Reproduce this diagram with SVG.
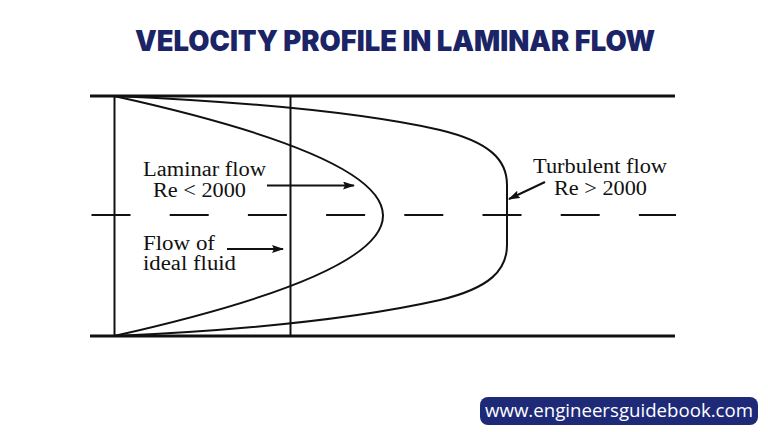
<svg xmlns="http://www.w3.org/2000/svg" width="768" height="432" viewBox="0 0 768 432">
<style>
.t{font-family:"Liberation Serif","Times New Roman",serif;font-size:20px;fill:#111}
.wall{stroke:#111;stroke-width:3;fill:none}
.ln{stroke:#111;stroke-width:2;fill:none}
.arr{stroke:#111;stroke-width:2;fill:none;marker-end:url(#ah)}
</style>
<defs>
<marker id="ah" viewBox="0 0 12 8" refX="11" refY="4" markerWidth="12" markerHeight="8" markerUnits="userSpaceOnUse" orient="auto">
<path d="M0,0 L12,4 L0,8 L2,4 Z" fill="#111"/>
</marker>
</defs>
<rect width="768" height="432" fill="#fff"/>
<text id="title" x="395" y="51" text-anchor="middle" textLength="520" lengthAdjust="spacingAndGlyphs" style="font-family:Inter,'Open Sans',sans-serif;font-weight:900;font-size:28px;fill:#1b2466">VELOCITY PROFILE IN LAMINAR FLOW</text>
<g id="pipe">
<line class="wall" x1="90" y1="96" x2="675" y2="96"/>
<line class="wall" x1="90" y1="336" x2="675" y2="336"/>
<line x1="91.5" y1="215" x2="676" y2="215" stroke="#111" stroke-width="2" stroke-dasharray="39 39.2"/>
<line class="ln" x1="114.5" y1="96" x2="114.5" y2="336"/>
</g>
<g id="ideal"><line class="ln" x1="290.5" y1="96" x2="290.5" y2="336"/></g>
<g id="laminar"><path class="ln" d="M114,96 Q652,215 114,336"/></g>
<g id="turbulent"><path class="ln" d="M114,96 C250,102 360,112 440,130 C490,142 507,160 507,185 L507,245 C507,270 490,288 440,300 C360,318 250,330 114,336"/></g>
<g id="connectors">
<line class="arr" x1="267" y1="185.5" x2="354" y2="185.5"/>
<line class="arr" x1="227" y1="249" x2="283" y2="249"/>
<line class="arr" x1="545" y1="182" x2="509" y2="199"/>
</g>
<g id="label-laminar">
<text class="t" x="143" y="176" textLength="123" lengthAdjust="spacingAndGlyphs">Laminar flow</text>
<text class="t" x="153" y="197" textLength="93" lengthAdjust="spacingAndGlyphs">Re &lt; 2000</text>
</g>
<g id="label-ideal">
<text class="t" x="143" y="249.5" textLength="72" lengthAdjust="spacingAndGlyphs">Flow of</text>
<text class="t" x="143" y="270" textLength="93" lengthAdjust="spacingAndGlyphs">ideal fluid</text>
</g>
<g id="label-turbulent">
<text class="t" x="533" y="172.5" textLength="134" lengthAdjust="spacingAndGlyphs">Turbulent flow</text>
<text class="t" x="554" y="194.5" textLength="93" lengthAdjust="spacingAndGlyphs">Re &gt; 2000</text>
</g>
<g id="website">
<rect x="480" y="397" width="278" height="28" rx="8" fill="#1e2a78"/>
<text x="619" y="417" text-anchor="middle" textLength="268" lengthAdjust="spacingAndGlyphs" style="font-family:'Open Sans',Inter,sans-serif;font-size:19px;fill:#fff">www.engineersguidebook.com</text>
</g>
</svg>
